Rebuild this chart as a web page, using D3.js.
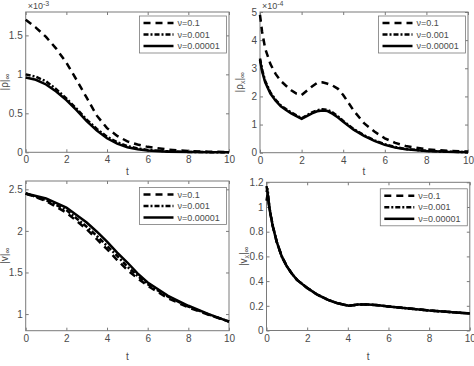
<!DOCTYPE html>
<html><head><meta charset="utf-8">
<script src="https://cdn.jsdelivr.net/npm/d3@7"></script>
<style>body{margin:0;background:#fff}svg{display:block;font-family:"Liberation Sans",Arial,sans-serif}</style>
</head><body><svg id="c" width="474" height="366"></svg>
<script>
const seriesNames = ["ν=0.1", "ν=0.001", "ν=0.00001"];

// Panel 1: |rho|_inf (x1e-3)
const t1 = [0,0.5,1,1.5,2,2.5,3,3.5,4,4.5,5,5.5,6,7,8,9,10];
const rho_a = [1.70,1.60,1.48,1.33,1.15,0.93,0.70,0.47,0.31,0.21,0.14,0.10,0.07,0.035,0.017,0.008,0.004];
const rho_b = [1.00,0.97,0.91,0.81,0.69,0.56,0.42,0.30,0.20,0.13,0.08,0.05,0.03,0.012,0.005,0.002,0.001];
const rho_c = [0.96,0.93,0.87,0.78,0.67,0.54,0.40,0.28,0.18,0.11,0.065,0.04,0.022,0.008,0.003,0.001,0.0005];

// Panel 2: |rho_x|_inf (x1e-4)
const t2 = [0,0.1,0.25,0.5,0.75,1,1.25,1.5,1.75,2,2.25,2.5,2.75,3,3.25,3.5,3.75,4,4.5,5,5.5,6,6.5,7,8,9,10];
const rhox_a = [4.9,4.3,3.7,3.15,2.8,2.55,2.38,2.22,2.1,2.05,2.2,2.35,2.48,2.5,2.45,2.38,2.27,2.05,1.5,1.05,0.75,0.51,0.35,0.24,0.12,0.07,0.04];
const rhox_b = [3.35,2.95,2.55,2.14,1.88,1.68,1.55,1.43,1.33,1.22,1.33,1.43,1.51,1.54,1.52,1.43,1.29,1.13,0.84,0.62,0.44,0.3,0.2,0.13,0.065,0.035,0.02];
const rhox_c = [3.3,2.9,2.5,2.1,1.85,1.65,1.52,1.4,1.3,1.2,1.3,1.4,1.47,1.5,1.48,1.38,1.25,1.1,0.82,0.6,0.42,0.28,0.18,0.12,0.06,0.03,0.02];

// Panel 3: |v|_inf
const t3 = [0,1,2,3,3.5,4,4.5,5,5.5,6,7,8,9,10];
const v_a = [2.45,2.36,2.22,2.02,1.90,1.78,1.65,1.53,1.43,1.34,1.19,1.08,0.99,0.91];
const v_b = [2.45,2.37,2.25,2.05,1.94,1.82,1.70,1.57,1.46,1.36,1.21,1.09,0.995,0.91];
const v_c = [2.45,2.39,2.28,2.10,1.99,1.87,1.74,1.62,1.49,1.38,1.22,1.10,1.00,0.91];

// Panel 4: |v_x|_inf
const t4 = [0,0.05,0.15,0.3,0.5,0.75,1,1.25,1.5,2,2.5,3,3.5,4.05,4.5,5,5.5,6,7,8,9,10];
const vx_a = [1.05,1.10,0.98,0.85,0.72,0.60,0.52,0.46,0.41,0.345,0.29,0.25,0.22,0.20,0.21,0.21,0.205,0.195,0.178,0.162,0.15,0.138];
const vx_b = [1.12,1.15,0.99,0.855,0.72,0.60,0.52,0.46,0.41,0.345,0.29,0.25,0.22,0.20,0.21,0.21,0.205,0.195,0.178,0.162,0.15,0.138];
const vx_c = [1.17,1.12,0.985,0.85,0.72,0.60,0.52,0.46,0.41,0.345,0.29,0.25,0.22,0.20,0.21,0.21,0.205,0.195,0.178,0.162,0.15,0.138];

const yTicks1 = [0,0.5,1,1.5], yTicks2 = [0,1,2,3,4,5], yTicks3 = [1,1.5,2,2.5], yTicks4 = [0,0.2,0.4,0.6,0.8,1,1.2];
const xTicks = [0,2,4,6,8,10];

const panels = [
  {x0:25.7,x1:229,y0:12,y1:152.3, ydom:[0,1.8], yt:yTicks1, t:t1, s:[rho_a,rho_b,rho_c], ylab:["|ρ|","∞",""], exp:"-3", lx:8, tl:175},
  {x0:260,x1:468,y0:12,y1:152.7, ydom:[0,5], yt:yTicks2, t:t2, s:[rhox_a,rhox_b,rhox_c], ylab:["|ρ","∞","x"], exp:"-4", lx:243, tl:175},
  {x0:25.7,x1:229,y0:181,y1:330.7, ydom:[0.8,2.6], yt:yTicks3, t:t3, s:[v_a,v_b,v_c], ylab:["|v|","∞",""], lx:8, tl:360},
  {x0:266.5,x1:469.8,y0:182.3,y1:330.5, ydom:[0,1.2], yt:yTicks4, t:t4, s:[vx_a,vx_b,vx_c], ylab:["|v","∞","x"], lx:247, tl:360}
];
const dashes = ["7,5", "5,2,2,2", null];
const axCol = "#7a7a7a", txtCol = "#4a4a4a";
const svg = d3.select("#c");

panels.forEach((p, pi) => {
  const x = d3.scaleLinear().domain([0,10]).range([p.x0,p.x1]);
  const y = d3.scaleLinear().domain(p.ydom).range([p.y1,p.y0]);
  const g = svg.append("g");
  g.append("rect").attr("x",p.x0).attr("y",p.y0).attr("width",p.x1-p.x0).attr("height",p.y1-p.y0)
    .attr("fill","#fff").attr("stroke",axCol).attr("stroke-width",1);
  const fmt = d => d3.format("~g")(d);
  const styleAx = sel => { sel.select(".domain").remove(); sel.selectAll("line").attr("stroke",axCol);
    sel.selectAll("text").attr("fill",txtCol).style("font-size","10px"); };
  g.append("g").attr("transform",`translate(0,${p.y1})`).call(d3.axisBottom(x).tickValues(xTicks).tickSize(-3).tickPadding(4).tickFormat(fmt)).call(styleAx);
  g.append("g").attr("transform",`translate(0,${p.y0})`).call(d3.axisTop(x).tickValues(xTicks).tickSize(-3).tickFormat("")).call(styleAx);
  g.append("g").attr("transform",`translate(${p.x0},0)`).call(d3.axisLeft(y).tickValues(p.yt).tickSize(-3).tickPadding(3).tickFormat(fmt)).call(styleAx);
  g.append("g").attr("transform",`translate(${p.x1},0)`).call(d3.axisRight(y).tickValues(p.yt).tickSize(-3).tickFormat("")).call(styleAx);

  const line = d3.line().x((d,i)=>x(p.t[i])).y(d=>y(d));
  p.s.forEach((vals, si) => {
    g.append("path").datum(vals).attr("d",line).attr("fill","none").attr("stroke","#000")
      .attr("stroke-width",2.5).attr("stroke-dasharray",dashes[si]);
  });

  // x label
  g.append("text").attr("x",(p.x0+p.x1)/2).attr("y",p.tl).attr("text-anchor","middle")
    .attr("fill",txtCol).style("font-size","10px").text("t");
  // y label
  const yl = g.append("text").attr("transform",`translate(${p.lx},${(p.y0+p.y1)/2}) rotate(-90)`)
    .attr("text-anchor","middle").attr("fill",txtCol).style("font-size","10px");
  yl.append("tspan").text(p.ylab[0]);
  if (p.ylab[2]) { yl.append("tspan").attr("dy",2).style("font-size","7px").text(p.ylab[2]); yl.append("tspan").attr("dy",-2).text("|"); }
  yl.append("tspan").attr("dy",2).style("font-size","8px").text(p.ylab[1]);
  // exponent
  if (p.exp) {
    const ex = g.append("text").attr("x",p.x0+2).attr("y",p.y0-3).attr("fill",txtCol).style("font-size","9px");
    ex.append("tspan").text("×10");
    ex.append("tspan").attr("dy",-3).style("font-size","7px").text(p.exp);
  }
  // legend
  const lx0 = p.x1 - 89.5, ly0 = p.y0 + (pi<2 ? 4 : 6.5), lw = 87, lh = 37;
  g.append("rect").attr("x",lx0).attr("y",ly0).attr("width",lw).attr("height",lh)
    .attr("fill","#fff").attr("stroke",axCol).attr("stroke-width",0.8);
  seriesNames.forEach((nm, si) => {
    const yy = ly0 + 7 + si*11.5;
    g.append("line").attr("x1",lx0+4).attr("x2",lx0+34).attr("y1",yy).attr("y2",yy)
      .attr("stroke","#000").attr("stroke-width",2.5).attr("stroke-dasharray",dashes[si]);
    g.append("text").attr("x",lx0+38).attr("y",yy+3).attr("fill",txtCol).style("font-size","9px").text(nm);
  });
});
</script></body></html>
